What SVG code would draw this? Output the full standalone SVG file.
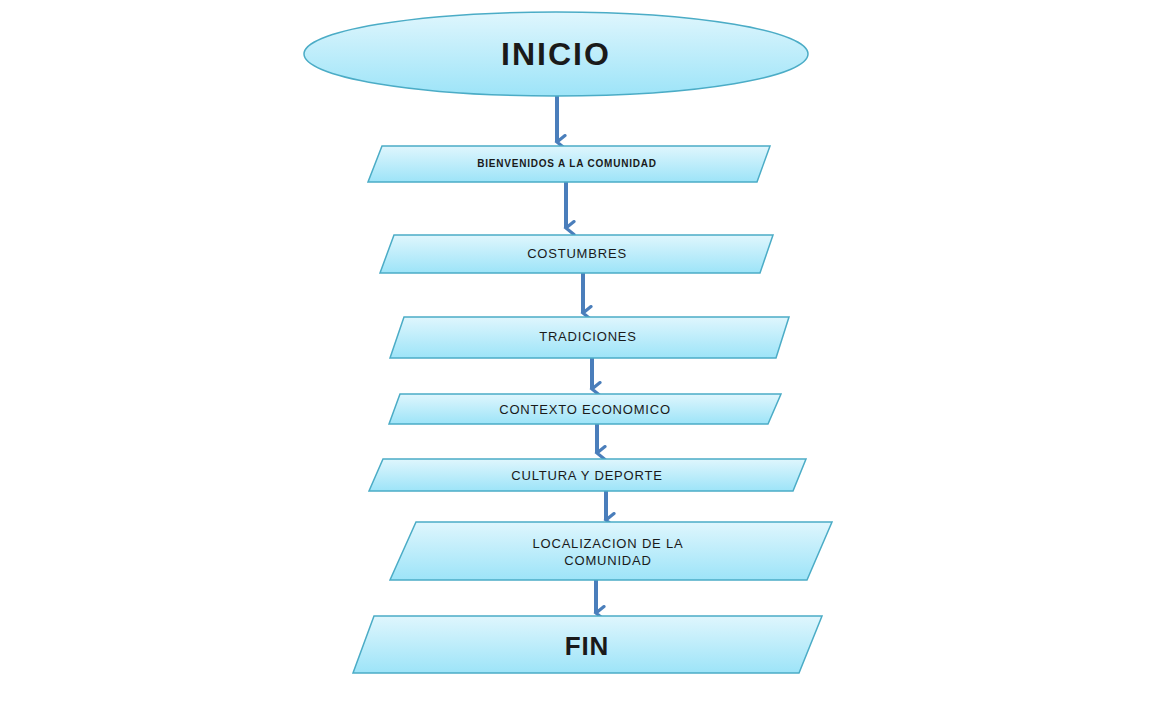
<svg xmlns="http://www.w3.org/2000/svg" width="1152" height="705" viewBox="0 0 1152 705">
<defs>
<linearGradient id="g" x1="0" y1="0" x2="0" y2="1"><stop offset="0" stop-color="#dff6fd"/><stop offset="1" stop-color="#9de4f8"/></linearGradient>
<marker id="ah" viewBox="0 0 10 10" refX="5" refY="8" markerWidth="4" markerHeight="4" orient="auto-start-reverse" markerUnits="strokeWidth"><path d="M1,3 L5,8 L9,3" fill="none" stroke="#4a7ebb" stroke-width="2" stroke-linecap="round"/></marker>
<style>
.s{fill:url(#g);stroke:#4bacc6;stroke-width:1.5}
.t{font-family:"Liberation Sans",Arial,sans-serif;font-size:13px;fill:#1a1a1a;text-anchor:middle;letter-spacing:0.8px}
.c{stroke:#4a7ebb;stroke-width:4;fill:none;marker-end:url(#ah)}
</style>
</defs>
<rect width="1152" height="705" fill="#fff"/>
<g id="connectors">
<line class="c" x1="557" y1="96" x2="557" y2="142"/>
<line class="c" x1="566" y1="182" x2="566" y2="228"/>
<line class="c" x1="583" y1="273" x2="583" y2="313"/>
<line class="c" x1="592" y1="358" x2="592" y2="389"/>
<line class="c" x1="597" y1="424" x2="597" y2="453"/>
<line class="c" x1="606" y1="491" x2="606" y2="520"/>
<line class="c" x1="596" y1="580" x2="596" y2="613"/>
</g>
<g id="inicio"><ellipse class="s" cx="556" cy="54" rx="252" ry="42"/><text class="t" x="556" y="65" style="font-size:32px;font-weight:bold;letter-spacing:2px">INICIO</text></g>
<g id="bienvenidos"><polygon class="s" points="382,146 770,146 757,182 368,182"/><text class="t" x="567" y="167" style="font-size:10px;font-weight:bold">BIENVENIDOS A LA COMUNIDAD</text></g>
<g id="costumbres"><polygon class="s" points="394,235 773,235 760,273 380,273"/><text class="t" x="577" y="258">COSTUMBRES</text></g>
<g id="tradiciones"><polygon class="s" points="404,317 789,317 776,358 390,358"/><text class="t" x="588" y="341">TRADICIONES</text></g>
<g id="contexto"><polygon class="s" points="400,394 781,394 768,424 389,424"/><text class="t" x="585" y="414">CONTEXTO ECONOMICO</text></g>
<g id="cultura"><polygon class="s" points="383,459 806,459 793,491 369,491"/><text class="t" x="587" y="480">CULTURA Y DEPORTE</text></g>
<g id="localizacion"><polygon class="s" points="416,522 832,522 807,580 390,580"/><text class="t" x="608" y="548">LOCALIZACION DE LA</text><text class="t" x="608" y="565">COMUNIDAD</text></g>
<g id="fin"><polygon class="s" points="374,616 822,616 799,673 353,673"/><text class="t" x="587" y="655" style="font-size:26px;font-weight:bold">FIN</text></g>
</svg>
